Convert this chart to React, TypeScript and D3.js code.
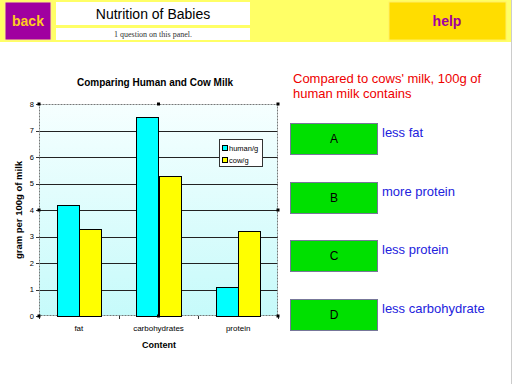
import { useRef, useEffect } from 'react';
import * as d3 from 'd3';

const categories = ['fat', 'carbohydrates', 'protein'];
const seriesNames = ['human/g', 'cow/g'];
const humanValues = [4.2, 7.5, 1.1];
const cowValues = [3.3, 5.3, 3.2];
const seriesColors = ['#00ffff', '#ffff00'];
const answerLetters = ['A', 'B', 'C', 'D'];
const answerTexts = ['less fat', 'more protein', 'less protein', 'less carbohydrate'];

export default function App() {
    const svgRef = useRef<SVGSVGElement>(null);

    useEffect(() => {
        if (!svgRef.current) return;
        const svg = d3.select(svgRef.current);
        svg.selectAll('*').remove();
        const font = 'Liberation Sans, Arial, sans-serif';

        // page header
        svg.append('rect').attr('x', 0).attr('y', 0).attr('width', 512).attr('height', 42).attr('fill', '#ffff66');
        svg.append('rect').attr('x', 5).attr('y', 2).attr('width', 46).attr('height', 38)
            .attr('fill', '#a000a0').attr('stroke', '#ffee88').attr('stroke-width', 1);
        svg.append('text').attr('x', 28).attr('y', 26).attr('text-anchor', 'middle')
            .attr('font-family', font).attr('font-weight', 'bold').attr('font-size', 14)
            .attr('fill', '#ffcc22').text('back');
        svg.append('rect').attr('x', 56).attr('y', 2).attr('width', 194).attr('height', 23).attr('fill', '#ffffff');
        svg.append('text').attr('x', 153).attr('y', 19).attr('text-anchor', 'middle')
            .attr('font-family', font).attr('font-size', 14).attr('fill', '#000').text('Nutrition of Babies');
        svg.append('rect').attr('x', 56).attr('y', 28).attr('width', 194).attr('height', 12).attr('fill', '#ffffff');
        svg.append('text').attr('x', 153).attr('y', 37).attr('text-anchor', 'middle')
            .attr('font-family', 'Liberation Serif, Times New Roman, serif').attr('font-size', 8)
            .attr('fill', '#333').text('1 question on this panel.');
        svg.append('rect').attr('x', 389).attr('y', 2).attr('width', 117).attr('height', 38)
            .attr('fill', '#ffdd00').attr('stroke', '#ffee66').attr('stroke-width', 1);
        svg.append('text').attr('x', 447).attr('y', 26).attr('text-anchor', 'middle')
            .attr('font-family', font).attr('font-weight', 'bold').attr('font-size', 14)
            .attr('fill', '#a000a0').text('help');
        svg.append('line').attr('x1', 511.5).attr('x2', 511.5).attr('y1', 0).attr('y2', 384)
            .attr('stroke', '#cccccc').attr('stroke-width', 1);

        // chart
        const left = 39, right = 278, top = 104, bottom = 316;
        const y = d3.scaleLinear().domain([0, 8]).range([bottom, top]);
        const x0 = d3.scaleBand<string>().domain(categories).range([left, right]).padding(0);
        const x1 = d3.scaleBand<string>().domain(seriesNames).range([0, x0.bandwidth()])
            .paddingInner(0).paddingOuter(0.81);

        const defs = svg.append('defs');
        const grad = defs.append('linearGradient').attr('id', 'plotbg')
            .attr('x1', 0).attr('y1', 0).attr('x2', 0).attr('y2', 1);
        grad.append('stop').attr('offset', '0%').attr('stop-color', '#f6ffff');
        grad.append('stop').attr('offset', '100%').attr('stop-color', '#c6fafa');

        svg.append('text').attr('x', 155).attr('y', 86).attr('text-anchor', 'middle')
            .attr('font-family', font).attr('font-weight', 'bold').attr('font-size', 10)
            .attr('fill', '#000').text('Comparing Human and Cow Milk');

        svg.append('rect').attr('x', left).attr('y', top).attr('width', right - left).attr('height', bottom - top)
            .attr('fill', 'url(#plotbg)');

        const ticks = y.ticks(8);
        svg.append('g').selectAll('line').data(ticks.filter(t => t > 0 && t < 8)).enter().append('line')
            .attr('x1', left).attr('x2', right)
            .attr('y1', d => Math.round(y(d)) + 0.5).attr('y2', d => Math.round(y(d)) + 0.5)
            .attr('stroke', '#222').attr('stroke-width', 1);

        svg.append('rect').attr('x', left + 0.5).attr('y', top + 0.5)
            .attr('width', right - left - 1).attr('height', bottom - top - 1)
            .attr('fill', 'none').attr('stroke', '#777').attr('stroke-width', 1).attr('stroke-dasharray', '2,1');

        const series = [humanValues, cowValues];
        const g = svg.append('g');
        categories.forEach((c, ci) => {
            seriesNames.forEach((s, si) => {
                const v = series[si][ci];
                g.append('rect')
                    .attr('x', Math.round(x0(c)! + x1(s)!) + 0.5)
                    .attr('y', Math.round(y(v)) + 0.5)
                    .attr('width', Math.round(x1.bandwidth()))
                    .attr('height', Math.round(y(0) - y(v)))
                    .attr('fill', seriesColors[si]).attr('stroke', '#000').attr('stroke-width', 1);
            });
        });

        // y ticks & labels
        svg.append('g').selectAll('text').data(ticks).enter().append('text')
            .attr('x', left - 5).attr('y', d => y(d) + 2.5).attr('text-anchor', 'end')
            .attr('font-family', font).attr('font-size', 7.5).attr('fill', '#000').text(d => d);
        svg.append('g').selectAll('line').data(ticks).enter().append('line')
            .attr('x1', left - 3).attr('x2', left).attr('y1', d => Math.round(y(d)) + 0.5).attr('y2', d => Math.round(y(d)) + 0.5)
            .attr('stroke', '#333');

        // x ticks & labels
        const bounds = categories.map(c => x0(c)!).concat([right]);
        svg.append('g').selectAll('line').data(bounds).enter().append('line')
            .attr('x1', d => Math.round(d) + 0.5).attr('x2', d => Math.round(d) + 0.5)
            .attr('y1', bottom).attr('y2', bottom + 3).attr('stroke', '#333');
        svg.append('g').selectAll('text').data(categories).enter().append('text')
            .attr('x', d => x0(d)! + x0.bandwidth() / 2).attr('y', bottom + 15).attr('text-anchor', 'middle')
            .attr('font-family', font).attr('font-size', 8).attr('fill', '#000').text(d => d);

        svg.append('text').attr('x', 159).attr('y', 348).attr('text-anchor', 'middle')
            .attr('font-family', font).attr('font-weight', 'bold').attr('font-size', 9)
            .attr('fill', '#000').text('Content');
        svg.append('text').attr('transform', `translate(22,${(top + bottom) / 2}) rotate(-90)`)
            .attr('text-anchor', 'middle').attr('font-family', font).attr('font-weight', 'bold')
            .attr('font-size', 9.5).attr('fill', '#000').text('gram per 100g of milk');

        // selection handles
        const hx = [left, (left + right) / 2, right];
        const hy = [top, (top + bottom) / 2, bottom];
        hx.forEach((hxv, i) => hy.forEach((hyv, j) => {
            if (i === 1 && j === 1) return;
            svg.append('rect').attr('x', hxv - 1.5).attr('y', hyv - 1.5).attr('width', 3).attr('height', 3).attr('fill', '#000');
        }));

        // legend
        const lg = svg.append('g');
        lg.append('rect').attr('x', 219.5).attr('y', 139.5).attr('width', 43).attr('height', 27)
            .attr('fill', '#ffffff').attr('stroke', '#333');
        seriesNames.forEach((s, i) => {
            lg.append('rect').attr('x', 222.5).attr('y', 145.5 + i * 12).attr('width', 5).attr('height', 5)
                .attr('fill', seriesColors[i]).attr('stroke', '#000');
            lg.append('text').attr('x', 229).attr('y', 151 + i * 12)
                .attr('font-family', font).attr('font-size', 7.5).attr('fill', '#000').text(s);
        });

        // question panel
        svg.append('text').attr('x', 293).attr('y', 83).attr('font-family', font).attr('font-size', 13)
            .attr('fill', '#ee0000').text("Compared to cows' milk, 100g of");
        svg.append('text').attr('x', 293).attr('y', 98).attr('font-family', font).attr('font-size', 13)
            .attr('fill', '#ee0000').text('human milk contains');

        const by = d3.scaleBand<string>().domain(answerLetters).range([123, 330]).paddingInner(0.472).paddingOuter(0);
        answerLetters.forEach((l, i) => {
            const yy = Math.round(by(l)!);
            svg.append('rect').attr('x', 290.5).attr('y', yy + 0.5).attr('width', 87).attr('height', 31)
                .attr('fill', '#00e000').attr('stroke', '#777799').attr('stroke-width', 1);
            svg.append('text').attr('x', 334).attr('y', yy + 20).attr('text-anchor', 'middle')
                .attr('font-family', font).attr('font-size', 12).attr('fill', '#000').text(l);
            svg.append('text').attr('x', 382).attr('y', yy + 14).attr('font-family', font)
                .attr('font-size', 13).attr('fill', '#2222dd').text(answerTexts[i]);
        });
    }, []);

    return (
        <svg ref={svgRef} width={512} height={384}
            style={{ position: 'absolute', left: 0, top: 0, background: '#ffffff' }} />
    );
}
